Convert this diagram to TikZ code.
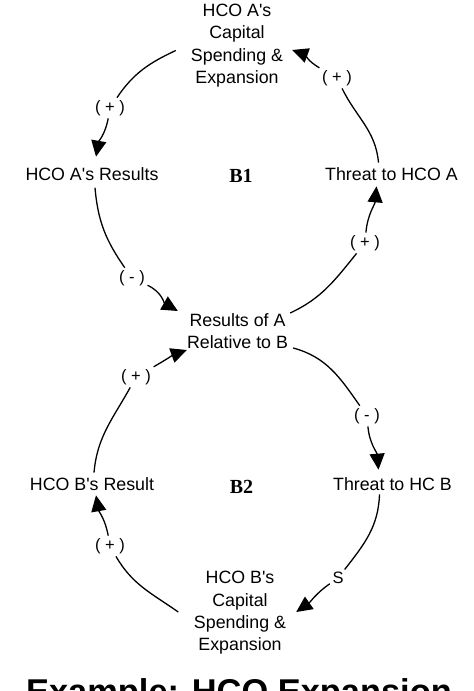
\documentclass[tikz,border=0pt]{standalone}
\usepackage{fontspec}
\setmainfont{Liberation Sans}[Ligatures=TeXOff]
\newfontfamily\serifbold{Liberation Serif}
\usetikzlibrary{arrows.meta}
\tikzset{
  txt/.style={font=\fontsize{17.8}{22.4}\selectfont, align=center, inner sep=4pt},
  lab/.style={font=\fontsize{16.5}{18}\selectfont, inner sep=2.5pt},
  loopname/.style={font=\serifbold\bfseries\fontsize{20}{22}\selectfont, inner sep=0pt},
  link/.style={line width=1.3pt, black},
  arr/.style={link, -{Triangle[length=16pt,width=15pt]}}
}
\begin{document}
\begin{tikzpicture}[x=1pt,y=1pt]
\useasboundingbox (0,0) rectangle (474,-691);
\clip (0,0) rectangle (474,-691);
\fill[white] (0,0) rectangle (474,-691);

% nodes
\node[txt] (tA) at (237,-45.5) {HCO A's\\Capital\\Spending \&\\Expansion};
\node[txt] (hA) at (92,-174) {HCO A's Results};
\node[txt] (tC) at (391.5,-174) {Threat to HCO A};
\node[txt] (ra) at (237.5,-331) {Results of A\\Relative to B};
\node[txt] (hB) at (92,-484) {HCO B's Result};
\node[txt] (tD) at (392.5,-484) {Threat to HC B};
\node[txt] (bB) at (240,-613) {HCO B's\\Capital\\Spending \&\\Expansion};
\node[loopname] (b1) at (241,-176) {B1};
\node[loopname] (b2) at (241.5,-487) {B2};
\node[font=\bfseries\fontsize{34.4}{36}\selectfont, anchor=base, inner sep=0pt] (title) at (239,-703.5) {Example: HCO Expansion};

% labels
\node[lab] (l1) at (110,-108) {( + )};
\node[lab] (l2) at (132,-278) {( - )};
\node[lab] (l3) at (365,-243) {( + )};
\node[lab] (l4) at (337,-78) {( + )};
\node[lab] (l5) at (367,-416) {( - )};
\node[lab] (l6) at (338,-578) {S};
\node[lab] (l7) at (110,-546) {( + )};
\node[lab] (l8) at (136,-377) {( + )};

% connectors
\draw[link] ([shift={(-11,-5)}]tA.west) to[out=205,in=56] (l1);
\draw[arr] (l1) to[out=-100,in=80] ([shift={(4,6.6)}]hA.north);

\draw[link] ([shift={(3,-3)}]hA.south) to[out=-85,in=125] (l2);
\draw[arr] (l2) to[out=-25,in=150] ([shift={(-5,20)}]ra.west);

\draw[link] ([shift={(-2,18)}]ra.east) to[out=25,in=-129] (l3);
\draw[arr] (l3) to[out=85,in=-95] ([shift={(-15,-1.6)}]tC.south);

\draw[link] ([shift={(-13,0.6)}]tC.north) to[out=95,in=-64] (l4);
\draw[arr] (l4) to[out=150,in=-20] ([shift={(5,-4.5)}]tA.east);

\draw[link] ([shift={(1,-17)}]ra.east) to[out=-15,in=125] (l5);
\draw[arr] (l5) to[out=-85,in=95] ([shift={(-14,3.6)}]tD.north);

\draw[link] ([shift={(-13,0.4)}]tD.south) to[out=-92,in=52] (l6);
\draw[arr] (l6) to[out=-145,in=35] ([shift={(6,1)}]bB.east);

\draw[link] ([shift={(-11.5,1)}]bB.west) to[out=145,in=-60] (l7);
\draw[arr] (l7) to[out=100,in=-80] ([shift={(4,-0.6)}]hB.south);

\draw[link] ([shift={(2,0.6)}]hB.north) to[out=85,in=-119] (l8);
\draw[arr] (l8) to[out=30,in=-160] ([shift={(4,-19)}]ra.west);
\end{tikzpicture}
\end{document}
